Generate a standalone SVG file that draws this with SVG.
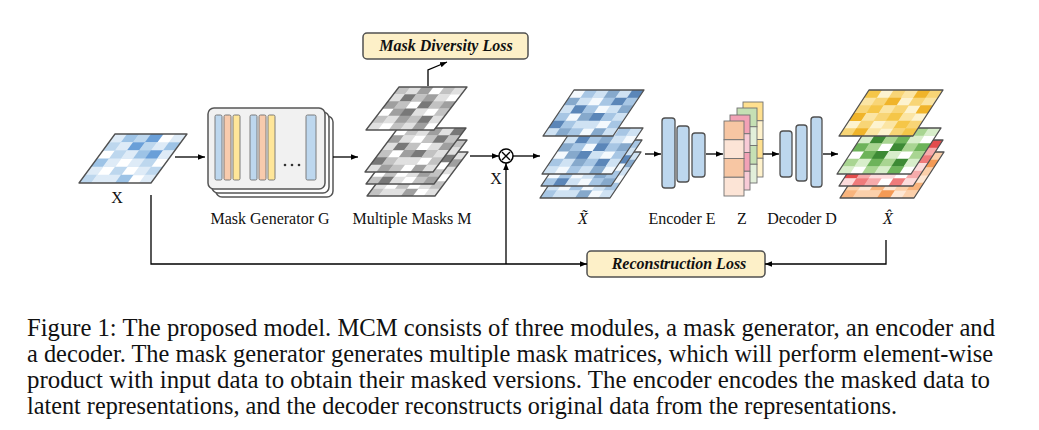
<svg xmlns="http://www.w3.org/2000/svg" xmlns:xlink="http://www.w3.org/1999/xlink" width="1039" height="430" viewBox="0 0 1039 430">
<style>
.l0{fill:var(--c0)} .l1{fill:var(--c1)} .l2{fill:var(--c2)} .l3{fill:var(--c3)} .l4{fill:var(--c4)}
.pBlue{--c0:#ffffff;--c1:#deebf7;--c2:#bdd7ee;--c3:#9dc3e6;--c4:#6a9fd8}
.pGray{--c0:#ffffff;--c1:#e0e0e0;--c2:#c2c2c2;--c3:#9f9f9f;--c4:#787878}
.pTil{--c0:#f4f9fd;--c1:#cfe2f3;--c2:#a7c6e4;--c3:#86a9cc;--c4:#5b86b8}
.pYel{--c0:#fdf3d0;--c1:#fbe5a4;--c2:#f8d576;--c3:#f5c648;--c4:#f0b42a}
.pGrn{--c0:#ffffff;--c1:#d8eecb;--c2:#a9d592;--c3:#6db35a;--c4:#3d8a35}
.pRed{--c0:#ffffff;--c1:#fcdcdc;--c2:#f6abab;--c3:#ef7b7b;--c4:#e34c4c}
.pOrg{--c0:#fde7d4;--c1:#fbd0ab;--c2:#f8b47d;--c3:#f49a55;--c4:#ef8232}
.plate{fill:none;stroke:#505050;stroke-width:1.3;stroke-linejoin:round}
.conn{fill:none;stroke:#000;stroke-width:1.3}
.lbl{font-family:"Liberation Serif","Times New Roman",serif;font-size:16px;fill:#111;text-anchor:middle}
.math{font-style:italic}
.loss{font-family:"Liberation Serif","Times New Roman",serif;font-size:16px;font-weight:bold;font-style:italic;fill:#111;text-anchor:middle}
.lossbox{fill:#fdf0c8;stroke:#505050;stroke-width:1.5}
.gbox{stroke:#555;stroke-width:1.5}
.bar{stroke:#707070;stroke-width:0.9}
.blue{fill:#bdd7ee}.peach{fill:#f8cbad}.yel{fill:#ffe699}
.enc{fill:#bdd7ee;stroke:#505050;stroke-width:1.3}
.zc{stroke:#707070;stroke-width:0.9}
.cap{font-family:"Liberation Serif","Times New Roman",serif;font-size:24.5px;fill:#111}
</style>
<defs>
<marker id="arr" viewBox="0 0 10 10" refX="10" refY="5" markerWidth="7" markerHeight="7" orient="auto" markerUnits="userSpaceOnUse"><path d="M0,1 L10,5 L0,9 z" fill="#000"/></marker>
<g id="L1">
<rect class="l0" width="60" height="60"/>
<rect class="l1" x="0" y="0" width="10.5" height="10.5"/><rect class="l3" x="10" y="0" width="10.5" height="10.5"/><rect class="l2" x="20" y="0" width="10.5" height="10.5"/><rect class="l4" x="30" y="0" width="10.5" height="10.5"/><rect class="l1" x="50" y="0" width="10" height="10.5"/>
<rect class="l2" x="0" y="10" width="10.5" height="10.5"/><rect class="l1" x="10" y="10" width="10.5" height="10.5"/><rect class="l4" x="20" y="10" width="10.5" height="10.5"/><rect class="l2" x="30" y="10" width="10.5" height="10.5"/><rect class="l1" x="40" y="10" width="10.5" height="10.5"/><rect class="l3" x="50" y="10" width="10" height="10.5"/>
<rect class="l2" x="10" y="20" width="10.5" height="10.5"/><rect class="l1" x="20" y="20" width="10.5" height="10.5"/><rect class="l3" x="30" y="20" width="10.5" height="10.5"/><rect class="l4" x="40" y="20" width="10.5" height="10.5"/><rect class="l1" x="50" y="20" width="10" height="10.5"/>
<rect class="l3" x="0" y="30" width="10.5" height="10.5"/><rect class="l1" x="10" y="30" width="10.5" height="10.5"/><rect class="l1" x="30" y="30" width="10.5" height="10.5"/><rect class="l2" x="40" y="30" width="10.5" height="10.5"/>
<rect class="l1" x="0" y="40" width="10.5" height="10.5"/><rect class="l2" x="20" y="40" width="10.5" height="10.5"/><rect class="l1" x="40" y="40" width="10.5" height="10.5"/><rect class="l2" x="50" y="40" width="10" height="10.5"/>
<rect class="l2" x="0" y="50" width="10.5" height="10"/><rect class="l1" x="10" y="50" width="10.5" height="10"/><rect class="l1" x="20" y="50" width="10.5" height="10"/><rect class="l3" x="30" y="50" width="10.5" height="10"/><rect class="l1" x="50" y="50" width="10" height="10"/>
</g>
<g id="L2">
<rect class="l0" width="60" height="60"/>
<rect class="l2" x="0" y="0" width="10.5" height="10.5"/><rect class="l1" x="10" y="0" width="10.5" height="10.5"/><rect class="l3" x="20" y="0" width="10.5" height="10.5"/><rect class="l2" x="40" y="0" width="10.5" height="10.5"/><rect class="l1" x="50" y="0" width="10" height="10.5"/>
<rect class="l1" x="0" y="10" width="10.5" height="10.5"/><rect class="l4" x="10" y="10" width="10.5" height="10.5"/><rect class="l2" x="20" y="10" width="10.5" height="10.5"/><rect class="l3" x="30" y="10" width="10.5" height="10.5"/><rect class="l1" x="40" y="10" width="10.5" height="10.5"/>
<rect class="l3" x="0" y="20" width="10.5" height="10.5"/><rect class="l2" x="10" y="20" width="10.5" height="10.5"/><rect class="l4" x="30" y="20" width="10.5" height="10.5"/><rect class="l2" x="40" y="20" width="10.5" height="10.5"/><rect class="l3" x="50" y="20" width="10" height="10.5"/>
<rect class="l3" x="10" y="30" width="10.5" height="10.5"/><rect class="l4" x="20" y="30" width="10.5" height="10.5"/><rect class="l1" x="30" y="30" width="10.5" height="10.5"/><rect class="l2" x="50" y="30" width="10" height="10.5"/>
<rect class="l2" x="0" y="40" width="10.5" height="10.5"/><rect class="l1" x="10" y="40" width="10.5" height="10.5"/><rect class="l3" x="20" y="40" width="10.5" height="10.5"/><rect class="l2" x="30" y="40" width="10.5" height="10.5"/><rect class="l4" x="40" y="40" width="10.5" height="10.5"/><rect class="l1" x="50" y="40" width="10" height="10.5"/>
<rect class="l1" x="0" y="50" width="10.5" height="10"/><rect class="l2" x="20" y="50" width="10.5" height="10"/><rect class="l1" x="30" y="50" width="10.5" height="10"/><rect class="l3" x="40" y="50" width="10.5" height="10"/>
</g>
<g id="L3">
<rect class="l0" width="60" height="60"/>
<rect class="l2" x="10" y="0" width="10.5" height="10.5"/><rect class="l1" x="20" y="0" width="10.5" height="10.5"/><rect class="l3" x="30" y="0" width="10.5" height="10.5"/><rect class="l1" x="40" y="0" width="10.5" height="10.5"/><rect class="l4" x="50" y="0" width="10" height="10.5"/>
<rect class="l3" x="0" y="10" width="10.5" height="10.5"/><rect class="l1" x="10" y="10" width="10.5" height="10.5"/><rect class="l2" x="30" y="10" width="10.5" height="10.5"/><rect class="l4" x="40" y="10" width="10.5" height="10.5"/><rect class="l2" x="50" y="10" width="10" height="10.5"/>
<rect class="l1" x="0" y="20" width="10.5" height="10.5"/><rect class="l4" x="10" y="20" width="10.5" height="10.5"/><rect class="l2" x="20" y="20" width="10.5" height="10.5"/><rect class="l1" x="40" y="20" width="10.5" height="10.5"/><rect class="l3" x="50" y="20" width="10" height="10.5"/>
<rect class="l2" x="0" y="30" width="10.5" height="10.5"/><rect class="l3" x="20" y="30" width="10.5" height="10.5"/><rect class="l4" x="30" y="30" width="10.5" height="10.5"/><rect class="l2" x="40" y="30" width="10.5" height="10.5"/><rect class="l1" x="50" y="30" width="10" height="10.5"/>
<rect class="l4" x="0" y="40" width="10.5" height="10.5"/><rect class="l2" x="10" y="40" width="10.5" height="10.5"/><rect class="l1" x="20" y="40" width="10.5" height="10.5"/><rect class="l1" x="30" y="40" width="10.5" height="10.5"/><rect class="l2" x="50" y="40" width="10" height="10.5"/>
<rect class="l1" x="0" y="50" width="10.5" height="10"/><rect class="l3" x="10" y="50" width="10.5" height="10"/><rect class="l2" x="20" y="50" width="10.5" height="10"/><rect class="l3" x="40" y="50" width="10.5" height="10"/><rect class="l1" x="50" y="50" width="10" height="10"/>
</g>
<g id="L4">
<rect class="l0" width="60" height="60"/>
<rect class="l3" x="0" y="0" width="10.5" height="10.5"/><rect class="l2" x="20" y="0" width="10.5" height="10.5"/><rect class="l1" x="30" y="0" width="10.5" height="10.5"/><rect class="l4" x="40" y="0" width="10.5" height="10.5"/><rect class="l2" x="50" y="0" width="10" height="10.5"/>
<rect class="l1" x="0" y="10" width="10.5" height="10.5"/><rect class="l2" x="10" y="10" width="10.5" height="10.5"/><rect class="l4" x="20" y="10" width="10.5" height="10.5"/><rect class="l2" x="40" y="10" width="10.5" height="10.5"/><rect class="l1" x="50" y="10" width="10" height="10.5"/>
<rect class="l2" x="0" y="20" width="10.5" height="10.5"/><rect class="l3" x="10" y="20" width="10.5" height="10.5"/><rect class="l1" x="20" y="20" width="10.5" height="10.5"/><rect class="l2" x="30" y="20" width="10.5" height="10.5"/><rect class="l4" x="50" y="20" width="10" height="10.5"/>
<rect class="l4" x="0" y="30" width="10.5" height="10.5"/><rect class="l1" x="10" y="30" width="10.5" height="10.5"/><rect class="l2" x="20" y="30" width="10.5" height="10.5"/><rect class="l3" x="30" y="30" width="10.5" height="10.5"/><rect class="l1" x="40" y="30" width="10.5" height="10.5"/>
<rect class="l2" x="10" y="40" width="10.5" height="10.5"/><rect class="l1" x="30" y="40" width="10.5" height="10.5"/><rect class="l3" x="40" y="40" width="10.5" height="10.5"/><rect class="l2" x="50" y="40" width="10" height="10.5"/>
<rect class="l2" x="0" y="50" width="10.5" height="10"/><rect class="l4" x="10" y="50" width="10.5" height="10"/><rect class="l1" x="20" y="50" width="10.5" height="10"/><rect class="l2" x="40" y="50" width="10.5" height="10"/><rect class="l3" x="50" y="50" width="10" height="10"/>
</g>
</defs>
<rect width="1039" height="430" fill="#ffffff"/>

<g id="input-X">
<use xlink:href="#L1" href="#L1" class="pBlue" transform="matrix(1.2,0,-0.6,0.8167,115,134)"/>
<polygon class="plate" points="115,134 187,134 151,183 79,183"/>
<text class="lbl" x="117" y="203">X</text>
</g>

<g id="mask-generator">
<rect class="gbox" x="216" y="116" width="117" height="81" rx="6" fill="#ffffff"/>
<rect class="gbox" x="212" y="112" width="117" height="81" rx="6" fill="#ffffff"/>
<rect class="gbox" x="208" y="108" width="117" height="81" rx="6" fill="#f1f1f1"/>
<rect class="bar blue" x="215" y="115" width="7" height="65" rx="1.5"/>
<rect class="bar peach" x="224" y="115" width="7" height="65" rx="1.5"/>
<rect class="bar yel" x="233" y="115" width="7" height="65" rx="1.5"/>
<rect class="bar blue" x="250" y="115" width="7" height="65" rx="1.5"/>
<rect class="bar peach" x="259" y="115" width="7" height="65" rx="1.5"/>
<rect class="bar yel" x="268" y="115" width="7" height="65" rx="1.5"/>
<circle cx="285" cy="165" r="1.3" fill="#333"/><circle cx="292" cy="165" r="1.3" fill="#333"/><circle cx="299" cy="165" r="1.3" fill="#333"/>
<rect class="bar blue" x="306" y="115" width="10" height="65" rx="1.5"/>
<text class="lbl" x="270" y="224">Mask Generator G</text>
</g>

<g id="masks">
<use xlink:href="#L1" href="#L1" class="pGray" transform="matrix(1.1333,0,-0.55,0.7333,400,152)"/>
<polygon class="plate" points="400,152 468,152 435,196 367,196"/>
<use xlink:href="#L4" href="#L4" class="pGray" transform="matrix(1.1333,0,-0.55,0.7333,399,140)"/>
<polygon class="plate" points="399,140 467,140 434,184 366,184"/>
<use xlink:href="#L3" href="#L3" class="pGray" transform="matrix(1.1333,0,-0.55,0.7333,398,128)"/>
<polygon class="plate" points="398,128 466,128 433,172 365,172"/>
<use xlink:href="#L2" href="#L2" class="pGray" transform="matrix(1.1333,0,-0.55,0.7167,399,87)"/>
<polygon class="plate" points="399,87 467,87 434,130 366,130"/>
<text class="lbl" x="412" y="224">Multiple Masks M</text>
</g>

<g id="mask-diversity-loss">
<rect class="lossbox" x="363" y="33" width="165" height="26" rx="4"/>
<text class="loss" x="446" y="51">Mask Diversity Loss</text>
</g>

<g id="otimes">
<circle cx="506" cy="156" r="7" fill="#fff" stroke="#000" stroke-width="1.5"/>
<path d="M502,152 L510,160 M510,152 L502,160" stroke="#000" stroke-width="1.4"/>
<text class="lbl" x="496" y="184">X</text>
</g>

<g id="masked-X">
<use xlink:href="#L1" href="#L1" class="pTil" transform="matrix(1.1667,0,-0.5167,0.7667,571,152)"/>
<polygon class="plate" points="571,152 641,152 610,198 540,198"/>
<use xlink:href="#L4" href="#L4" class="pTil" transform="matrix(1.1667,0,-0.5167,0.7667,572,140)"/>
<polygon class="plate" points="572,140 642,140 611,186 541,186"/>
<use xlink:href="#L2" href="#L2" class="pTil" transform="matrix(1.1667,0,-0.5167,0.7667,573,128)"/>
<polygon class="plate" points="573,128 643,128 612,174 542,174"/>
<use xlink:href="#L3" href="#L3" class="pTil" transform="matrix(1.1667,0,-0.5167,0.7667,574,90)"/>
<polygon class="plate" points="574,90 644,90 613,136 543,136"/>
<text class="lbl math" x="583" y="224">X̃</text>
</g>

<g id="encoder">
<rect class="enc" x="662" y="118" width="13" height="70" rx="3"/>
<rect class="enc" x="677" y="126" width="12" height="56" rx="3"/>
<rect class="enc" x="692" y="133" width="13" height="44" rx="3"/>
<text class="lbl" x="682" y="224">Encoder E</text>
</g>

<g id="latent-Z">
<rect class="zc" x="743" y="102" width="20" height="18.75" fill="#ffe08f"/>
<rect class="zc" x="743" y="120.75" width="20" height="18.75" fill="#fff2cc"/>
<rect class="zc" x="743" y="139.5" width="20" height="18.75" fill="#ffe08f"/>
<rect class="zc" x="743" y="158.25" width="20" height="18.75" fill="#fff2cc"/>
<rect class="zc" x="737" y="108" width="20" height="18.75" fill="#c5e0b4"/>
<rect class="zc" x="737" y="126.75" width="20" height="18.75" fill="#e2efda"/>
<rect class="zc" x="737" y="145.5" width="20" height="18.75" fill="#c5e0b4"/>
<rect class="zc" x="737" y="164.25" width="20" height="18.75" fill="#e2efda"/>
<rect class="zc" x="730" y="115" width="20" height="18.75" fill="#f2a2b6"/>
<rect class="zc" x="730" y="133.75" width="20" height="18.75" fill="#f8cbd6"/>
<rect class="zc" x="730" y="152.5" width="20" height="18.75" fill="#f2a2b6"/>
<rect class="zc" x="730" y="171.25" width="20" height="18.75" fill="#f8cbd6"/>
<rect class="zc" x="724" y="121" width="20" height="18.75" fill="#f7c6a3"/>
<rect class="zc" x="724" y="139.75" width="20" height="18.75" fill="#fce4d6"/>
<rect class="zc" x="724" y="158.5" width="20" height="18.75" fill="#f7c6a3"/>
<rect class="zc" x="724" y="177.25" width="20" height="18.75" fill="#fce4d6"/>
<text class="lbl" x="742" y="224">Z</text>
</g>

<g id="decoder">
<rect class="enc" x="780" y="131" width="12" height="46" rx="3"/>
<rect class="enc" x="796" y="125" width="11" height="56" rx="3"/>
<rect class="enc" x="811" y="117" width="11" height="70" rx="3"/>
<text class="lbl" x="802" y="224">Decoder D</text>
</g>

<g id="recon-X">
<use xlink:href="#L1" href="#L1" class="pOrg" transform="matrix(1.2333,0,-0.5,0.7667,870,152)"/>
<polygon class="plate" points="870,152 944,152 914,198 840,198"/>
<use xlink:href="#L3" href="#L3" class="pRed" transform="matrix(1.2333,0,-0.5,0.7667,869,140)"/>
<polygon class="plate" points="869,140 943,140 913,186 839,186"/>
<use xlink:href="#L2" href="#L2" class="pGrn" transform="matrix(1.2333,0,-0.5,0.7667,867,128)"/>
<polygon class="plate" points="867,128 941,128 911,174 837,174"/>
<use xlink:href="#L4" href="#L4" class="pYel" transform="matrix(1.2333,0,-0.5,0.7667,869,90)"/>
<polygon class="plate" points="869,90 943,90 913,136 839,136"/>
<text class="lbl math" x="888" y="224">X̂</text>
</g>

<g id="recon-loss">
<rect class="lossbox" x="587" y="251" width="178" height="26" rx="4"/>
<text class="loss" x="679" y="269">Reconstruction Loss</text>
</g>

<g id="connectors">
<path class="conn" d="M175,157 H205" marker-end="url(#arr)"/>
<path class="conn" d="M333,157 H358" marker-end="url(#arr)"/>
<path class="conn" d="M470,156 H499" marker-end="url(#arr)"/>
<path class="conn" d="M513,156 H540" marker-end="url(#arr)"/>
<path class="conn" d="M645,154 H661" marker-end="url(#arr)"/>
<path class="conn" d="M706,154 H723" marker-end="url(#arr)"/>
<path class="conn" d="M763,154 H779" marker-end="url(#arr)"/>
<path class="conn" d="M823,154 H838" marker-end="url(#arr)"/>
<path class="conn" d="M428,86 V70 L447,62" marker-end="url(#arr)"/>
<path class="conn" d="M151,195 V264 H587" marker-end="url(#arr)"/>
<path class="conn" d="M506,264 V163" marker-end="url(#arr)"/>
<path class="conn" d="M886,240 V264 H765" marker-end="url(#arr)"/>
</g>

<g id="caption">
<text class="cap" x="27" y="336" textLength="968" lengthAdjust="spacingAndGlyphs">Figure 1: The proposed model. MCM consists of three modules, a mask generator, an encoder and</text>
<text class="cap" x="27" y="362" textLength="966" lengthAdjust="spacingAndGlyphs">a decoder. The mask generator generates multiple mask matrices, which will perform element-wise</text>
<text class="cap" x="27" y="388" textLength="963" lengthAdjust="spacingAndGlyphs">product with input data to obtain their masked versions.  The encoder encodes the masked data to</text>
<text class="cap" x="27" y="414" textLength="870" lengthAdjust="spacingAndGlyphs">latent representations, and the decoder reconstructs original data from the representations.</text>
</g>
</svg>
